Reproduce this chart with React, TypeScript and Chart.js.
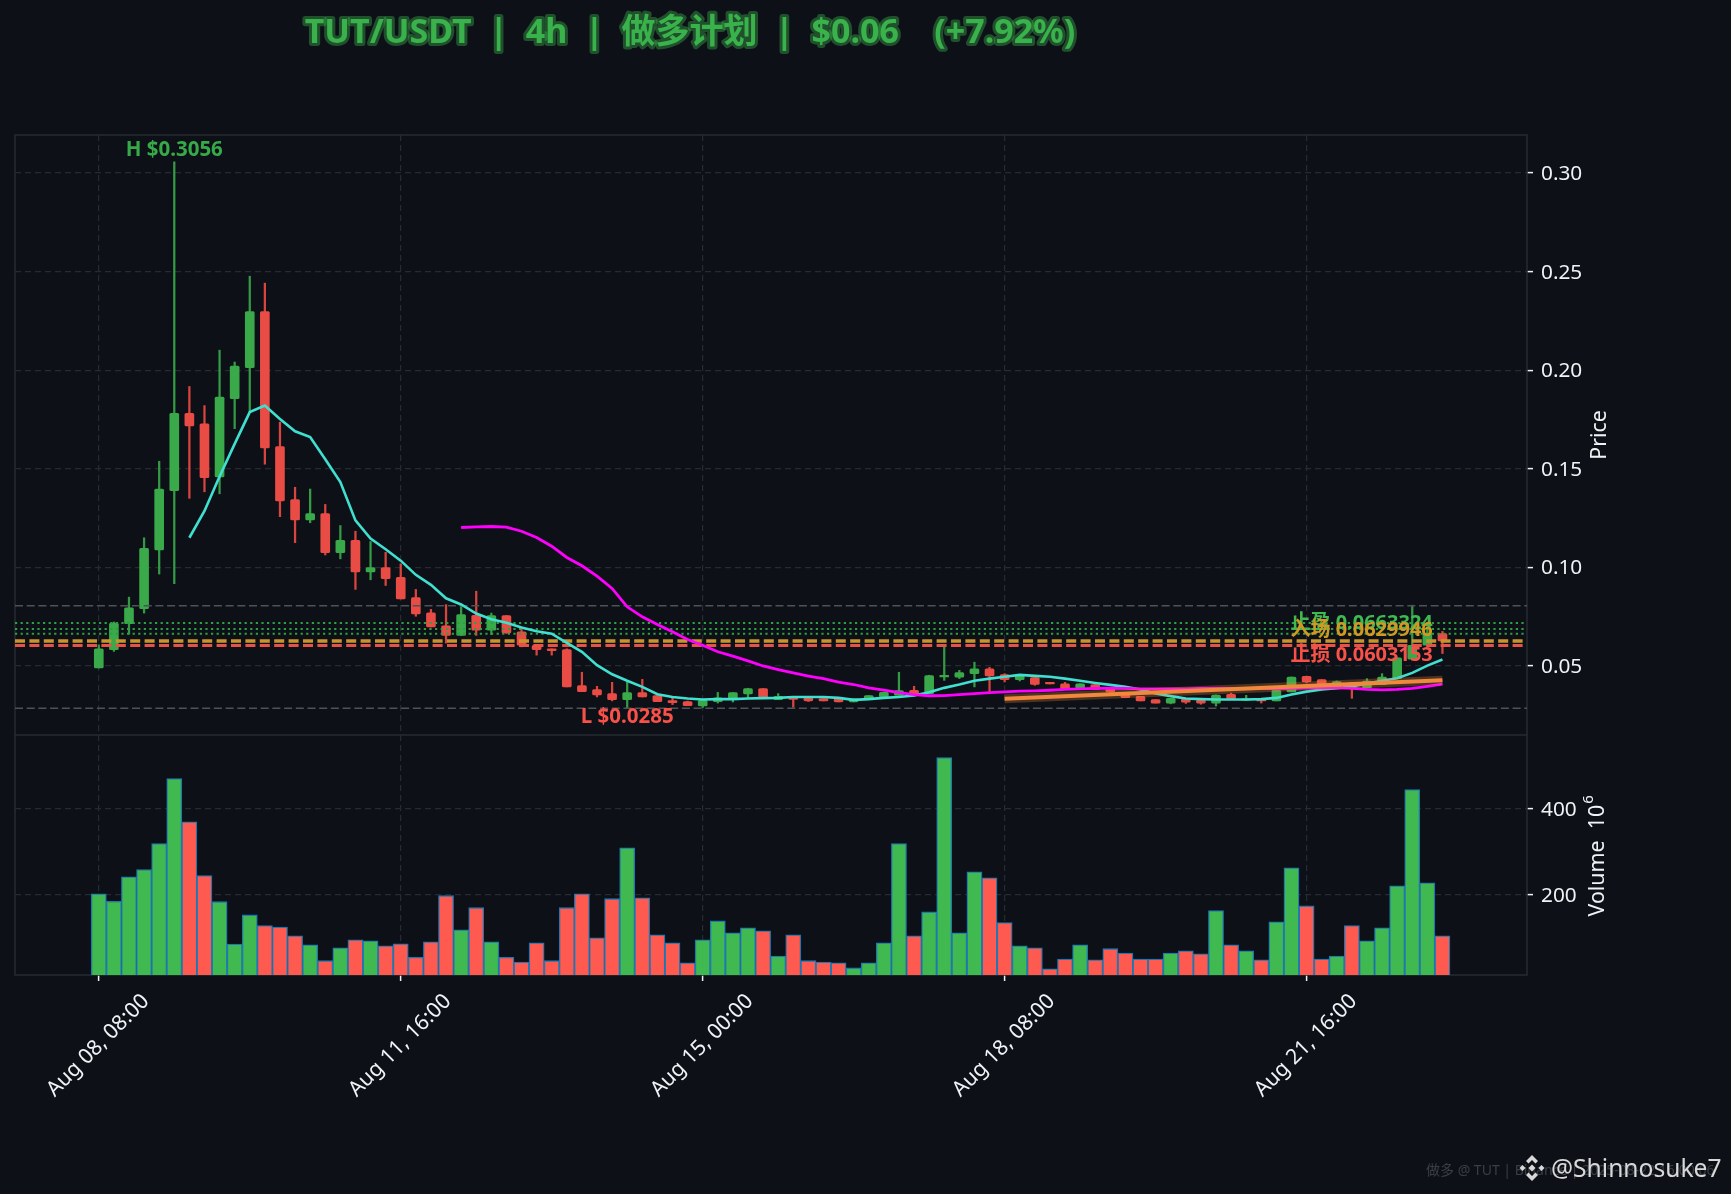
import React, { useEffect, useRef } from "react";
import { Chart, registerables } from "chart.js";
Chart.register(...registerables);

const FONT = '"Noto Sans", "Noto Sans CJK SC", sans-serif';
const titleText = "TUT/USDT  |  4h  |  做多计划  |  $0.06    (+7.92%)";
const tickIndexes = [0, 20, 40, 60, 80];
const tickLabels = ["Aug 08, 08:00", "Aug 11, 16:00", "Aug 15, 00:00", "Aug 18, 08:00", "Aug 21, 16:00"];
const priceTicks = [0.05, 0.1, 0.15, 0.2, 0.25, 0.3];
const volumeTicks = [200, 400];

const opens = [.049,.0582,.0714,.0791,.1088,.1389,.1781,.1727,.1459,.1855,.2012,.2297,.1612,.1344,.1241,.1273,.1075,.1137,.0977,.0999,.095,.0847,.077,.0704,.0655,.0757,.0681,.0756,.0673,.0605,.0587,.0583,.04,.038,.036,.0329,.0365,.035,.0324,.0319,.0297,.0319,.0333,.0358,.0385,.0329,.0343,.0338,.0335,.0333,.0318,.0329,.0343,.0351,.0377,.036,.0444,.0443,.0461,.0486,.0456,.0431,.0441,.0417,.041,.0389,.0405,.0385,.0363,.0346,.0329,.0312,.0333,.0326,.0312,.0356,.0326,.0326,.0323,.0368,.0448,.0431,.0394,.0415,.0389,.0405,.0436,.0534,.0605,.0664];
const highs = [.0607,.0723,.0849,.115,.1538,.3056,.1917,.182,.2101,.2041,.2476,.2441,.1736,.1406,.1397,.1319,.1212,.1183,.1131,.1076,.1018,.0888,.0787,.0811,.0801,.0879,.0768,.0756,.069,.0605,.0587,.0587,.0468,.0397,.0417,.0419,.0432,.035,.0338,.0322,.0326,.0366,.0365,.0387,.0385,.036,.0343,.0338,.0335,.0333,.0333,.035,.0368,.0468,.0397,.0453,.0605,.0478,.0519,.0493,.0461,.0453,.0441,.0417,.0417,.041,.0405,.0385,.0363,.0346,.0329,.0336,.0333,.0326,.0353,.0362,.0351,.0326,.0377,.0444,.0448,.0431,.0424,.0415,.0436,.0461,.0541,.0808,.07,.0675];
const lows = [.049,.0574,.0661,.0768,.0966,.0917,.135,.1383,.1373,.1703,.1791,.1523,.1257,.1125,.1226,.1063,.1043,.0888,.0937,.0908,.084,.0752,.0698,.0616,.0655,.0655,.0659,.0665,.0597,.0555,.0555,.0394,.037,.0343,.0323,.0285,.0343,.0319,.0304,.0299,.0289,.0312,.0317,.0338,.0334,.0329,.029,.032,.0323,.0318,.0318,.0329,.0338,.0351,.0346,.036,.0427,.0436,.0394,.0371,.0419,.0424,.0402,.0409,.0385,.0389,.038,.0365,.0339,.0323,.0312,.0308,.031,.0306,.0297,.0334,.0326,.0312,.0323,.0368,.0414,.0394,.0394,.0336,.0389,.0405,.0436,.0534,.0605,.0563];
const closes = [.0587,.0717,.0795,.1096,.1397,.1781,.1717,.1455,.1863,.202,.2297,.1606,.1337,.1241,.1273,.1075,.1137,.0977,.0999,.0943,.084,.0764,.0698,.0655,.076,.0681,.0756,.0668,.0605,.0583,.0577,.0394,.037,.0353,.0329,.0365,.0343,.0319,.0314,.0299,.0326,.0339,.0365,.0385,.0334,.0346,.0331,.0323,.0323,.0318,.0333,.035,.0366,.0375,.036,.0451,.0453,.0466,.0486,.0449,.0431,.0453,.0407,.0409,.0385,.041,.038,.0368,.0339,.0323,.0312,.0336,.0317,.0312,.0353,.0334,.0334,.0323,.0377,.0444,.0419,.0394,.0421,.0385,.0424,.0444,.0541,.0605,.0665,.0627];
const volumes = [201.6,184,241,258,319,471,370,244,183,84,152,127,123.5,103,82,45,75,94,91.5,80,84.5,53,89,197,117,169,89,53,42,87,45,169,201.6,98.5,190,309,192,105.5,87,40,94,138,110,122,115,56,105.5,45,42,40,28,40,87,319,103,159,520,110,253,239,134,80,75,26,49,82,47,73,63,49,49,63,68,61,162,82,68,47,136,262,173,49,56,127,91.5,122,220,445,227,103];
const maFastStart = 6;
const maFast = [.115,.1286,.1461,.1626,.1787,.182,.1752,.169,.1661,.1548,.1432,.1238,.1146,.1092,.1034,.0962,.0911,.0843,.0812,.0766,.0737,.0719,.0695,.0676,.0664,.0617,.0572,.0504,.0458,.0425,.0394,.0357,.0343,.0335,.033,.0332,.0332,.0335,.0337,.0338,.0343,.0343,.0343,.0338,.0328,.0332,.0338,.0343,.035,.0367,.0389,.0406,.0425,.0436,.0445,.0455,.045,.0445,.0436,.0425,.0414,.0404,.0394,.0381,.036,.0347,.0335,.0332,.033,.033,.033,.0332,.0338,.0355,.037,.0381,.0387,.0396,.0411,.0425,.0438,.0465,.0502,.0533];
const maSlowStart = 24;
const maSlow = [.1202,.1205,.1207,.1204,.1183,.1151,.1107,.105,.1008,.0955,.0893,.08,.0749,.071,.0673,.0634,.0605,.0572,.055,.0526,.05,.0482,.0465,.0448,.0436,.0418,.0406,.0389,.0377,.0365,.0355,.0349,.035,.0355,.036,.0365,.0369,.0372,.0374,.0377,.0381,.0384,.0386,.0387,.0386,.0384,.0384,.0384,.0384,.0386,.0386,.0386,.0386,.0386,.0384,.0386,.0389,.0389,.0389,.0386,.0381,.0379,.0381,.0386,.0397,.0408];
const trendIndexes = [60, 89];
const trendValues = [.0334, .0427];
const takeProfits = [.0718, .0688, .0663324];
const entry = .0629946;
const stop = .0603153;
const extremes = [.0805, .0285];
const highLabel = "H $0.3056";
const lowLabel = "L $0.0285";
const tpLabel = "止盈 0.0663324";
const entryLabel = "入场 0.0629946";
const stopLabel = "止损 0.0603153";
const priceTitle = "Price";
const volumeTitle = "Volume  10";
const volumeExponent = "6";

const BG = "#0d1117";
const GREEN = "#3fb950";
const RED = "#f85149";
const GRID = "#262b33";
const TXT = "#f0f3f6";
const X_MIN = -5.55;
const X_MAX = 94.6;

const series = (start: number, vals: number[]) => vals.map((y, i) => ({ x: start + i, y }));
const hline = (y: number) => [{ x: X_MIN, y }, { x: X_MAX, y }];
const isUp = (i: number) => closes[i] >= opens[i];

export default function App() {
  const ref = useRef<HTMLCanvasElement>(null);
  useEffect(() => {
    document.documentElement.style.background = BG;
    document.body.style.margin = "0";
    document.body.style.background = BG;
    const lineBase = { type: "line" as const, xAxisID: "x", yAxisID: "y", pointRadius: 0, fill: false, tension: 0 };
    const barBase = { type: "bar" as const, xAxisID: "x", grouped: false };
    const overlay = {
      id: "overlay",
      beforeDatasetsDraw(c: any) {
        const { ctx, chartArea: a, scales } = c;
        ctx.save();
        ctx.strokeStyle = "#262b33";
        ctx.lineWidth = 1.5;
        ctx.strokeRect(a.left, a.top, a.right - a.left, a.bottom - a.top);
        ctx.beginPath();
        ctx.moveTo(a.left, scales.y.bottom);
        ctx.lineTo(a.right, scales.y.bottom);
        ctx.stroke();
        ctx.restore();
      },
      afterDatasetsDraw(c: any) {
        const { ctx, chartArea: a, scales } = c;
        const { x, y, v } = scales;
        ctx.save();
        ctx.textAlign = "center";
        ctx.textBaseline = "middle";
        // title
        ctx.font = `bold 34px ${FONT}`;
        ctx.lineJoin = "round";
        ctx.lineWidth = 6;
        ctx.strokeStyle = "rgba(63,185,80,0.38)";
        ctx.strokeText(titleText, 690, 33);
        ctx.fillStyle = "#3ab24c";
        ctx.fillText(titleText, 690, 33);
        // value labels
        ctx.font = `bold 20.5px ${FONT}`;
        ctx.fillStyle = "#36a948";
        ctx.fillText(highLabel, x.getPixelForValue(5), y.getPixelForValue(highs[5]) - 11.5);
        ctx.fillStyle = RED;
        ctx.fillText(lowLabel, x.getPixelForValue(35), y.getPixelForValue(lows[35]) + 8.5);
        ctx.font = `bold 20px ${FONT}`;
        ctx.textAlign = "right";
        const lx = x.getPixelForValue(88.36);
        ctx.fillStyle = GREEN;
        ctx.fillText(tpLabel, lx, y.getPixelForValue(takeProfits[2]) - 10.5);
        ctx.fillStyle = "#d29922";
        ctx.fillText(entryLabel, lx, y.getPixelForValue(entry) - 10);
        ctx.fillStyle = RED;
        ctx.fillText(stopLabel, lx, y.getPixelForValue(stop) + 9.5);
        // rotated axis titles
        ctx.fillStyle = TXT;
        ctx.textAlign = "center";
        ctx.font = `21.4px ${FONT}`;
        ctx.save();
        ctx.translate(a.right + 73, (y.top + y.bottom) / 2);
        ctx.rotate(-Math.PI / 2);
        ctx.fillText(priceTitle, 0, 0);
        ctx.restore();
        ctx.save();
        ctx.translate(a.right + 71, (v.top + v.bottom) / 2);
        ctx.rotate(-Math.PI / 2);
        ctx.textAlign = "left";
        ctx.fillText(volumeTitle, -61.5, 0);
        const w = ctx.measureText(volumeTitle).width;
        ctx.font = `15px ${FONT}`;
        ctx.fillText(volumeExponent, -61.5 + w + 1, -9);
        ctx.restore();
        ctx.restore();
      },
    };
    const grid = { color: GRID, lineWidth: 1.2, offset: false, tickColor: TXT, tickLength: 6, tickWidth: 1.5, tickBorderDash: [] };
    const border = { display: false, dash: [6, 4] };
    const chart = new Chart(ref.current as HTMLCanvasElement, {
      type: "bar",
      plugins: [overlay],
      data: {
        datasets: [
          { ...barBase, yAxisID: "v", order: 20, data: volumes.map((y, i) => ({ x: i, y })), barThickness: 15.1, borderWidth: 1.3, borderSkipped: false, borderColor: "#1f77b4", backgroundColor: volumes.map((_, i) => (isUp(i) ? "#3fb950" : "#ff5a50")) },
          { ...barBase, yAxisID: "y", order: 19, data: lows.map((l, i) => ({ x: i, y: [l, highs[i]] })), barThickness: 1.6, backgroundColor: lows.map((_, i) => (isUp(i) ? "#349a45" : "#d8453e")) },
          { ...barBase, yAxisID: "y", order: 18, data: opens.map((o, i) => ({ x: i, y: [o, closes[i]] })), barThickness: 9, borderRadius: 1.5, borderSkipped: false, backgroundColor: opens.map((_, i) => (isUp(i) ? "#39a94a" : "#e84c44")) },
          ...takeProfits.map((p) => ({ ...lineBase, order: 17, data: hline(p), borderColor: "#2ea043", borderWidth: 2, borderDash: [2.2, 3.4] })),
          ...extremes.map((p) => ({ ...lineBase, order: 16, data: hline(p), borderColor: "#4d525b", borderWidth: 1.5, borderDash: [8, 3.7] })),
          { ...lineBase, order: 15, data: hline(stop), borderColor: "#e5534b", borderWidth: 3, borderDash: [10, 4.4] },
          { ...lineBase, order: 14, data: hline(entry - 0.0003), borderColor: "#c9952a", borderWidth: 3.6, borderDash: [10, 4.4] },
          { ...lineBase, order: 8, data: series(maFastStart, maFast), borderColor: "#40e0d0", borderWidth: 2.6 },
          { ...lineBase, order: 7, data: series(maSlowStart, maSlow), borderColor: "#ff00ff", borderWidth: 2.8 },
          { ...lineBase, order: 6, data: trendIndexes.map((x, i) => ({ x, y: trendValues[i] })), borderColor: "rgba(240,136,62,0.28)", borderWidth: 9 },
          { ...lineBase, order: 5, data: trendIndexes.map((x, i) => ({ x, y: trendValues[i] })), borderColor: "#f0883e", borderWidth: 4 },
        ] as any,
      },
      options: {
        responsive: false,
        animation: false,
        devicePixelRatio: 1,
        layout: { autoPadding: false, padding: { left: 15, top: 135, right: 0, bottom: 0 } },
        plugins: { legend: { display: false }, tooltip: { enabled: false }, title: { display: false } },
        scales: {
          x: {
            type: "linear", min: X_MIN, max: X_MAX, offset: false, position: "bottom",
            afterFit: (s: any) => { s.height = 219; s.paddingLeft = 0; s.paddingRight = 0; },
            afterBuildTicks: (s: any) => { s.ticks = tickIndexes.map((value) => ({ value })); },
            grid, border,
            ticks: {
              autoSkip: false, minRotation: 45, maxRotation: 45, color: TXT, padding: 8, labelOffset: 47,
              font: { family: FONT, size: 21.2 },
              callback: (v: any) => tickLabels[tickIndexes.indexOf(Number(v))] ?? "",
            },
          },
          y: {
            axis: "y", type: "linear", position: "right", stack: "panels", stackWeight: 600, min: 0.015, max: 0.3192,
            afterFit: (s: any) => { s.width = 204; s.paddingTop = 0; s.paddingBottom = 0; },
            afterBuildTicks: (s: any) => { s.ticks = priceTicks.map((value) => ({ value })); },
            grid, border,
            ticks: { color: TXT, padding: 8, labelOffset: 1.2, font: { family: FONT, size: 20.8 }, callback: (v: any) => Number(v).toFixed(2) },
          },
          v: {
            axis: "y", type: "linear", position: "right", stack: "panels", stackWeight: 240, min: 11.5, max: 572.8,
            afterFit: (s: any) => { s.width = 204; s.paddingTop = 0; s.paddingBottom = 0; },
            afterBuildTicks: (s: any) => { s.ticks = volumeTicks.map((value) => ({ value })); },
            grid, border,
            ticks: { color: TXT, padding: 8, labelOffset: 1.2, font: { family: FONT, size: 20.8 }, callback: (v: any) => String(v) },
          },
        },
      } as any,
    } as any);
    return () => chart.destroy();
  }, []);
  return (
    <div style={{ position: "relative", width: 1731, height: 1194, background: BG, overflow: "hidden" }}>
      <canvas ref={ref} width={1731} height={1194} style={{ display: "block", width: 1731, height: 1194 }} />
      <div style={{ position: "absolute", left: 1426, top: 1159, font: `14px ${FONT}`, color: "#3a3e46", whiteSpace: "nowrap" }}>做多 @ TUT | Binance | 2025-08-22 16:00:06</div>
      <svg style={{ position: "absolute", left: 1518, top: 1154 }} width={28} height={28} viewBox="0 0 28 28">
        <g fill="#d8d8d8">
          <path d="M14 1 L20 7 L17.5 9.5 L14 6 L10.5 9.5 L8 7 Z" />
          <path d="M14 27 L20 21 L17.5 18.5 L14 22 L10.5 18.5 L8 21 Z" />
          <path d="M4.5 11 L7.5 14 L4.5 17 L1.5 14 Z" />
          <path d="M23.5 11 L26.5 14 L23.5 17 L20.5 14 Z" />
          <path d="M14 10.5 L17.5 14 L14 17.5 L10.5 14 Z" />
        </g>
      </svg>
      <div style={{ position: "absolute", left: 1551, top: 1151, font: `24.6px ${FONT}`, color: "#d8d8d8", whiteSpace: "nowrap" }}>@Shinnosuke7</div>
    </div>
  );
}
